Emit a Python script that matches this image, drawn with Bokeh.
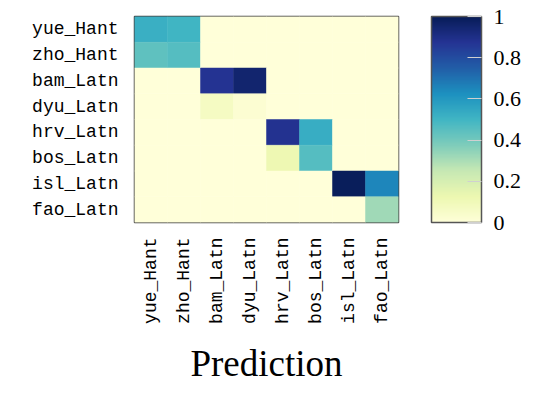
import math
from bokeh.plotting import figure
from bokeh.models import (FactorRange, LinearColorMapper, ColorBar, FixedTicker,
                          CustomJSTickFormatter, ColumnDataSource)
from bokeh.palettes import YlGnBu9, interp_palette
from bokeh.embed import file_html
from bokeh.resources import INLINE

labels = ["yue_Hant", "zho_Hant", "bam_Latn", "dyu_Latn",
          "hrv_Latn", "bos_Latn", "isl_Latn", "fao_Latn"]

# rows = true language, columns = prediction
row_yue = [0.52, 0.50, 0, 0, 0, 0, 0, 0]
row_zho = [0.44, 0.46, 0, 0, 0, 0, 0, 0]
row_bam = [0, 0, 0.875, 0.95, 0, 0, 0, 0]
row_dyu = [0, 0, 0.07, 0.02, 0, 0, 0, 0]
row_hrv = [0, 0, 0, 0, 0.88, 0.53, 0, 0]
row_bos = [0, 0, 0, 0, 0.12, 0.46, 0, 0]
row_isl = [0, 0, 0, 0, 0, 0, 0.99, 0.65]
row_fao = [0, 0, 0, 0, 0, 0, 0, 0.32]
matrix = [row_yue, row_zho, row_bam, row_dyu, row_hrv, row_bos, row_isl, row_fao]

cbar_ticks = [0, 0.2, 0.4, 0.6, 0.8, 1]

xs, ys, vals = [], [], []
for i, row in enumerate(matrix):
    for j, v in enumerate(row):
        xs.append(labels[j])
        ys.append(labels[i])
        vals.append(v)
src = ColumnDataSource(dict(x=xs, y=ys, v=vals))

palette = interp_palette(list(YlGnBu9[::-1]), 256)
mapper = LinearColorMapper(palette=palette, low=0, high=1)

p = figure(x_range=FactorRange(factors=labels),
           y_range=FactorRange(factors=labels[::-1]),
           frame_width=264, frame_height=206,
           output_backend="svg", toolbar_location=None,
           min_border_left=134, min_border_top=16, min_border_right=10,
           min_border_bottom=10)

p.rect(x="x", y="y", width=1, height=1, source=src,
       fill_color={"field": "v", "transform": mapper},
       line_color={"field": "v", "transform": mapper}, line_width=0.5)

p.grid.visible = False
p.outline_line_color = "#444444"
p.outline_line_width = 1.5
p.background_fill_color = None
p.border_fill_color = "white"

for ax in (p.xaxis, p.yaxis):
    ax.axis_line_color = None
    ax.major_tick_line_color = None
    ax.minor_tick_line_color = None
    ax.major_label_text_font = "Liberation Mono"
    ax.major_label_text_font_size = "18px"
    ax.major_label_text_color = "black"

p.yaxis.major_label_standoff = 10
p.xaxis.major_label_standoff = 9
p.xaxis.major_label_orientation = math.pi / 2
p.xaxis.axis_label = "Prediction"
p.xaxis.axis_label_text_font = "Liberation Serif"
p.xaxis.axis_label_text_font_style = "normal"
p.xaxis.axis_label_text_font_size = "37px"
p.xaxis.axis_label_text_color = "black"
p.xaxis.axis_label_standoff = 16

cb = ColorBar(color_mapper=mapper, ticker=FixedTicker(ticks=cbar_ticks),
              formatter=CustomJSTickFormatter(code="return tick.toString()"),
              width=50, height=206, margin=0, padding=0,
              location=(33, 0),
              bar_line_color="#555555", bar_line_width=1.5,
              major_tick_line_color="#d0d0d0", major_tick_in=14,
              major_tick_out=0,
              minor_tick_line_color=None,
              major_label_text_font="Liberation Serif",
              major_label_text_font_size="22px",
              major_label_text_color="black",
              label_standoff=12, background_fill_color=None)
p.add_layout(cb, "right")

open("out.html", "w").write(file_html(p, INLINE))
